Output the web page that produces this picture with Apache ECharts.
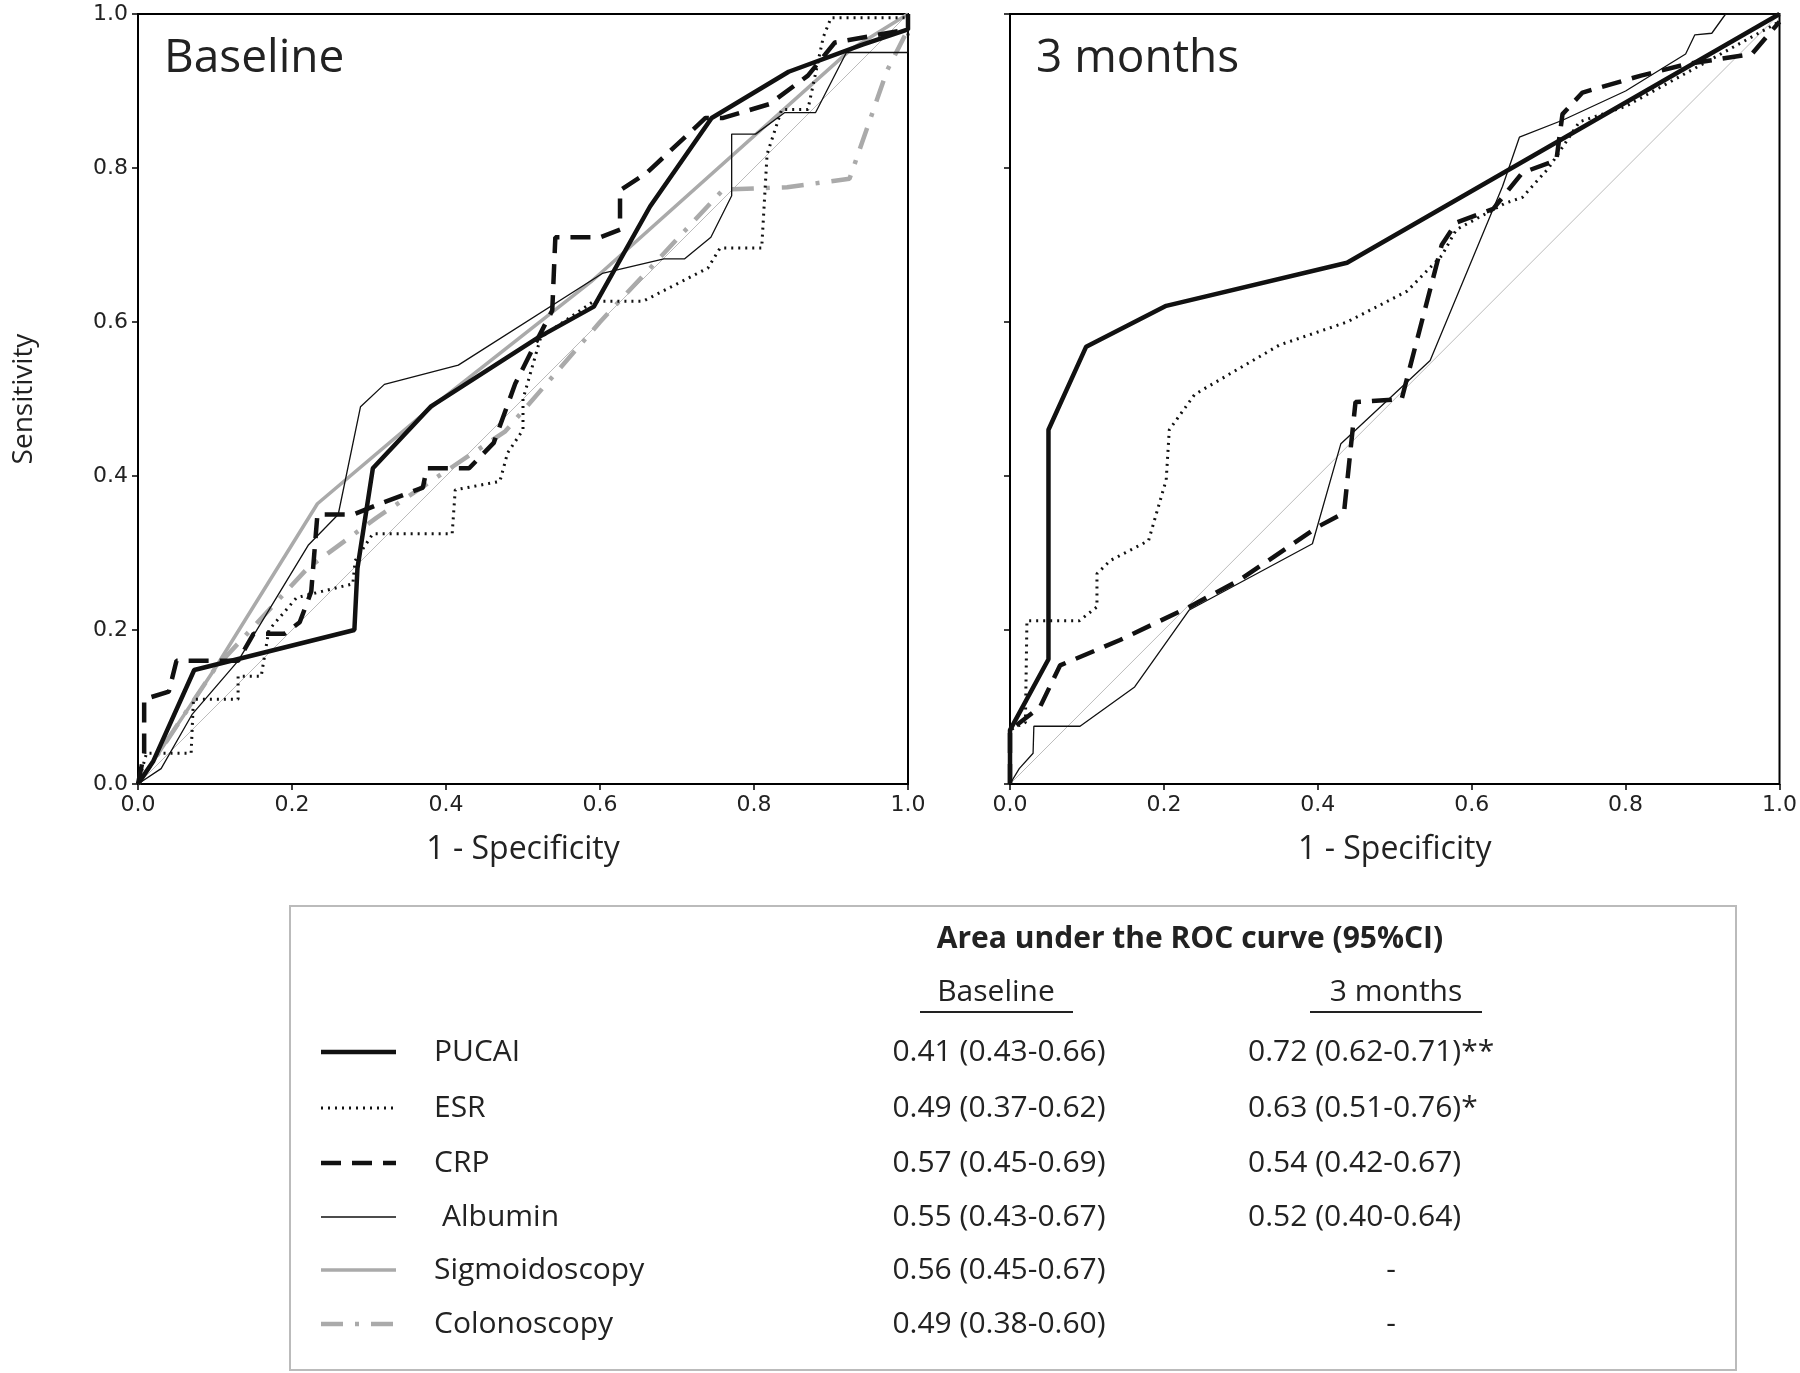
<!DOCTYPE html>
<html><head><meta charset="utf-8">
<script src="https://cdn.jsdelivr.net/npm/echarts@6/dist/echarts.min.js"></script>
<style>html,body{margin:0;background:#fff}#c{width:1800px;height:1373px}</style>
</head><body><div id="c"></div>
<script>
// ROC curves, [1 - specificity, sensitivity]
const basePucai = [[0,0],[0.02,0.03],[0.073,0.148],[0.281,0.2],[0.285,0.28],[0.305,0.41],[0.38,0.49],[0.52,0.58],[0.592,0.62],[0.665,0.75],[0.745,0.865],[0.845,0.925],[0.94,0.96],[1,0.98],[1,1]];
const baseEsr = [[0,0],[0.011,0.04],[0.069,0.04],[0.072,0.11],[0.13,0.11],[0.13,0.14],[0.16,0.14],[0.17,0.2],[0.206,0.242],[0.279,0.26],[0.282,0.29],[0.305,0.325],[0.408,0.325],[0.412,0.382],[0.47,0.393],[0.48,0.43],[0.5,0.46],[0.5,0.5],[0.523,0.58],[0.592,0.627],[0.656,0.627],[0.74,0.67],[0.756,0.696],[0.81,0.696],[0.817,0.818],[0.836,0.876],[0.87,0.876],[0.89,0.97],[0.9,0.995],[1,0.995],[1,0.97]];
const baseCrp = [[0,0],[0.008,0.04],[0.008,0.11],[0.04,0.12],[0.05,0.16],[0.13,0.16],[0.15,0.195],[0.19,0.195],[0.21,0.21],[0.225,0.25],[0.233,0.35],[0.28,0.35],[0.317,0.365],[0.37,0.385],[0.375,0.41],[0.43,0.41],[0.462,0.443],[0.49,0.52],[0.52,0.58],[0.538,0.615],[0.542,0.71],[0.6,0.71],[0.626,0.72],[0.626,0.771],[0.66,0.793],[0.737,0.865],[0.76,0.865],[0.82,0.883],[0.87,0.92],[0.905,0.963],[1,0.98]];
const baseAlbumin = [[0,0],[0.03,0.02],[0.07,0.09],[0.13,0.16],[0.221,0.31],[0.26,0.35],[0.289,0.49],[0.32,0.519],[0.416,0.544],[0.603,0.663],[0.683,0.682],[0.71,0.682],[0.744,0.71],[0.771,0.764],[0.771,0.844],[0.802,0.844],[0.84,0.872],[0.88,0.872],[0.92,0.95],[1,0.95],[1,1]];
const baseSigmoid = [[0,0],[0.1,0.15],[0.233,0.364],[0.382,0.49],[0.588,0.652],[0.927,0.955],[1,1]];
const baseColon = [[0,0],[0.1,0.15],[0.22,0.28],[0.31,0.346],[0.477,0.458],[0.6,0.6],[0.76,0.772],[0.843,0.775],[0.924,0.786],[0.973,0.927],[1,0.98]];
const m3Pucai = [[0,0],[0,0.07],[0.05,0.162],[0.05,0.46],[0.099,0.568],[0.203,0.621],[0.438,0.677],[1,1]];
const m3Esr = [[0,0],[0,0.07],[0.02,0.08],[0.022,0.212],[0.09,0.212],[0.113,0.23],[0.113,0.273],[0.13,0.29],[0.18,0.316],[0.203,0.395],[0.207,0.46],[0.24,0.506],[0.35,0.57],[0.438,0.6],[0.516,0.64],[0.561,0.686],[0.58,0.72],[0.643,0.754],[0.666,0.762],[0.7,0.8],[0.74,0.86],[0.8,0.88],[1,0.99]];
const m3Crp = [[0,0],[0,0.07],[0.039,0.1],[0.065,0.154],[0.143,0.187],[0.233,0.23],[0.3,0.266],[0.4,0.334],[0.434,0.352],[0.449,0.496],[0.509,0.5],[0.561,0.7],[0.58,0.729],[0.628,0.747],[0.666,0.794],[0.71,0.81],[0.718,0.87],[0.744,0.898],[0.82,0.92],[0.88,0.935],[0.964,0.948],[1,0.99]];
const m3Albumin = [[0,0],[0.012,0.02],[0.03,0.04],[0.031,0.075],[0.091,0.075],[0.162,0.126],[0.233,0.226],[0.393,0.312],[0.43,0.442],[0.546,0.55],[0.64,0.776],[0.662,0.84],[0.718,0.862],[0.8,0.9],[0.878,0.948],[0.89,0.973],[0.912,0.975],[0.93,1],[1,1]];
const diagonal = [[0,0],[1,1]];
const ticks = [0, 0.2, 0.4, 0.6, 0.8, 1.0];

const markers = ['PUCAI','ESR','CRP','Albumin','Sigmoidoscopy','Colonoscopy'];
const aucBaseline = ['0.41 (0.43-0.66)','0.49 (0.37-0.62)','0.57 (0.45-0.69)','0.55 (0.43-0.67)','0.56 (0.45-0.67)','0.49 (0.38-0.60)'];
const auc3m = ['0.72 (0.62-0.71)**','0.63 (0.51-0.76)*','0.54 (0.42-0.67)','0.52 (0.40-0.64)','-','-'];

const styles = {
  PUCAI: { color: '#111', width: 4.5, type: 'solid' },
  ESR: { color: '#111', width: 3, type: [2, 5] },
  CRP: { color: '#111', width: 4.5, type: [20, 11] },
  Albumin: { color: '#111', width: 1.3, type: 'solid' },
  Sigmoidoscopy: { color: '#aaa', width: 3.5, type: 'solid' },
  Colonoscopy: { color: '#aaa', width: 4.5, type: [22, 12, 4, 12] },
};

const chart = echarts.init(document.getElementById('c'));
const grids = [
  { left: 138, top: 14, width: 770, height: 770 },
  { left: 1010, top: 14, width: 773, height: 770 },
];
const tickFont = { fontFamily: 'DejaVu Sans', fontSize: 22, color: '#222' };

function axisX(i) {
  return { type: 'value', gridIndex: i, min: 0, max: 1, interval: 0.2,
    axisLine: { show: false }, splitLine: { show: false },
    axisTick: { show: true, inside: false, length: 6, lineStyle: { color: '#000', width: 1.5 } },
    axisLabel: Object.assign({ formatter: v => v.toFixed(1), margin: 10 }, tickFont),
    name: '1 - Specificity', nameLocation: 'middle', nameGap: 50,
    nameTextStyle: { fontFamily: 'Open Sans', fontSize: 32, color: '#222' } };
}
function axisY(i) {
  return { type: 'value', gridIndex: i, min: 0, max: 1, interval: 0.2,
    axisLine: { show: false }, splitLine: { show: false },
    axisTick: { show: true, inside: false, length: 6, lineStyle: { color: '#000', width: 1.5 } },
    axisLabel: Object.assign({ show: i === 0, formatter: v => v.toFixed(1), margin: 10 }, tickFont),
    name: i === 0 ? 'Sensitivity' : '', nameLocation: 'middle', nameGap: 100,
    nameTextStyle: { fontFamily: 'Open Sans', fontSize: 28, color: '#222' } };
}

function line(data, st, gi) {
  return { type: 'line', data: data, xAxisIndex: gi, yAxisIndex: gi, showSymbol: false,
    symbol: 'none', animation: false, silent: true,
    lineStyle: { color: st.color, width: st.width, type: st.type, cap: 'butt' } };
}

const series = [
  line(diagonal, { color: '#bbb', width: 1, type: 'solid' }, 0),
  line(baseSigmoid, styles.Sigmoidoscopy, 0),
  line(baseColon, styles.Colonoscopy, 0),
  line(baseAlbumin, styles.Albumin, 0),
  line(baseEsr, styles.ESR, 0),
  line(baseCrp, styles.CRP, 0),
  line(basePucai, styles.PUCAI, 0),
  line(diagonal, { color: '#bbb', width: 1, type: 'solid' }, 1),
  line(m3Albumin, styles.Albumin, 1),
  line(m3Esr, styles.ESR, 1),
  line(m3Crp, styles.CRP, 1),
  line(m3Pucai, styles.PUCAI, 1),
];

const rowY = [1052, 1108, 1163, 1217, 1270, 1324];
const txt = { fontFamily: 'Open Sans', fontSize: 30, fill: '#222' };
const graphic = [
  { type: 'text', left: 164, top: 36, style: { text: 'Baseline', fontFamily: 'Open Sans', fontSize: 46, fill: '#222' } },
  { type: 'text', left: 1036, top: 36, style: { text: '3 months', fontFamily: 'Open Sans', fontSize: 46, fill: '#222' } },
  { type: 'rect', shape: { x: 290, y: 906, width: 1446, height: 464 }, style: { fill: 'none', stroke: '#bbb', lineWidth: 2 } },
  { type: 'text', x: 1190, y: 939, style: Object.assign({}, txt, { text: 'Area under the ROC curve (95%CI)', fontWeight: 'bold', align: 'center', verticalAlign: 'middle' }) },
  { type: 'text', x: 996, y: 992, style: Object.assign({}, txt, { text: 'Baseline', align: 'center', verticalAlign: 'middle' }) },
  { type: 'line', shape: { x1: 920, y1: 1012, x2: 1073, y2: 1012 }, style: { stroke: '#222', lineWidth: 2 } },
  { type: 'text', x: 1396, y: 992, style: Object.assign({}, txt, { text: '3 months', align: 'center', verticalAlign: 'middle' }) },
  { type: 'line', shape: { x1: 1310, y1: 1012, x2: 1482, y2: 1012 }, style: { stroke: '#222', lineWidth: 2 } },
];
markers.forEach(function (m, i) {
  const st = styles[m];
  graphic.push({ type: 'line', shape: { x1: 321, y1: rowY[i], x2: 396, y2: rowY[i] },
    style: { stroke: st.color, lineWidth: st.width, lineDash: st.type === 'solid' ? null : st.type } });
  graphic.push({ type: 'text', x: m === 'Albumin' ? 442 : 434, y: rowY[i], style: Object.assign({}, txt, { text: m, verticalAlign: 'middle' }) });
  graphic.push({ type: 'text', x: 999, y: rowY[i], style: Object.assign({}, txt, { text: aucBaseline[i], align: 'center', verticalAlign: 'middle' }) });
  const v = auc3m[i];
  graphic.push({ type: 'text', x: v === '-' ? 1391 : 1248, y: rowY[i], style: Object.assign({}, txt, { text: v, align: v === '-' ? 'center' : 'left', verticalAlign: 'middle' }) });
});

chart.setOption({
  animation: false,
  grid: grids.map(g => Object.assign({ show: true, borderColor: '#000', borderWidth: 2, backgroundColor: 'transparent' }, g)),
  xAxis: [axisX(0), axisX(1)],
  yAxis: [axisY(0), axisY(1)],
  series: series,
  graphic: graphic,
});
</script></body></html>
